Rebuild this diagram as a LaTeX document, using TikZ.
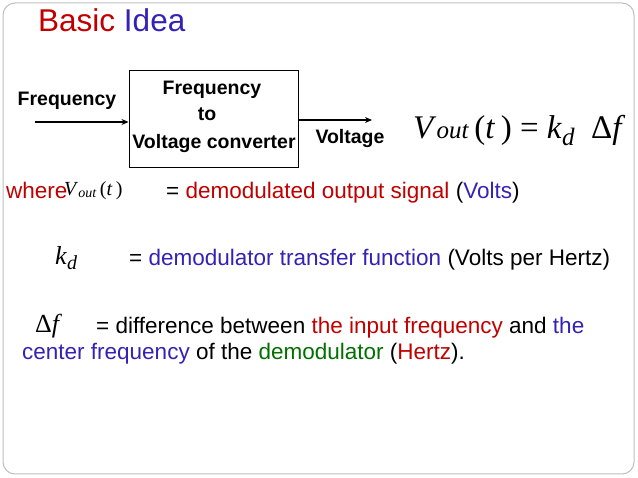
\documentclass[tikz,border=0pt]{standalone}
\usetikzlibrary{arrows.meta}
\usepackage{fontspec}
\setmainfont{Liberation Sans}
\newfontfamily\tms{Liberation Serif}
\definecolor{rd}{RGB}{192,0,0}
\definecolor{bl}{RGB}{51,34,180}
\definecolor{gr}{RGB}{0,112,0}
\begin{document}
\begin{tikzpicture}[x=1pt,y=-1pt,
  lbl/.style={inner sep=0,anchor=base west,font=\fontsize{22.5}{26}\selectfont},
  blk/.style={inner sep=0,font=\bfseries\fontsize{19.5}{22}\selectfont},
  arr/.style={-{Stealth[length=7pt,width=6pt]},line width=1.2pt}]
\useasboundingbox (0,0) rectangle (638,478);
\draw[gray!50,line width=1pt,rounded corners=12pt] (3,3) rectangle (634,474);
\node[lbl,font=\fontsize{31.5}{34}\selectfont] (t) at (38,32) {\textcolor{rd}{Basic} \textcolor{bl}{Idea}};
\node[draw,line width=1pt,minimum width=169pt,minimum height=97pt,inner sep=0] (c) at (213.5,119.5) {};
\node[blk] (c1) at (212,90) {Frequency};
\node[blk] (c2) at (207,114) {to};
\node[blk] (c3) at (214,144) {Voltage converter};
\node[blk] (fi) at (67,101) {Frequency};
\node[blk] (vo) at (350,139) {Voltage};
\coordinate (a0) at (35,122);
\draw[arr] (a0) -- (c.west|-a0);
\coordinate (b1) at (372,120);
\draw[arr] (c.east|-b1) -- (b1);
\node[inner sep=0,anchor=base west,font=\tms\fontsize{33}{38}\selectfont] (eq) at (413,139) {\textit{V}\textit{\fontsize{25}{30}\selectfont out}\,(\textit{t}\,) = \textit{k}\raisebox{-7pt}{\textit{\fontsize{25}{30}\selectfont d}}\ \ \symbol{"0394}\textit{f}};
\node[lbl] (w) at (6,199) {\textcolor{rd}{where}};
\node[inner sep=0,anchor=base west,font=\tms\fontsize{20}{24}\selectfont] (wv) at (64,196) {\textit{V}\raisebox{-2pt}{\textit{\fontsize{14}{16}\selectfont out}}\,(\textit{t}\,)};
\node[lbl] (l1) at (166,199) {= \textcolor{rd}{demodulated output signal} (\textcolor{bl}{Volts})};
\node[inner sep=0,anchor=base west,font=\tms\fontsize{26}{30}\selectfont] (kd) at (55,265) {\textit{k}\raisebox{-5pt}{\textit{\fontsize{20}{24}\selectfont d}}};
\node[lbl] (l2) at (129,266) {= \textcolor{bl}{demodulator transfer function} (Volts per Hertz)};
\node[inner sep=0,anchor=base west,font=\tms\fontsize{26}{30}\selectfont] (df) at (35,333) {\symbol{"0394}\textit{f}};
\node[lbl] (l3) at (96,334) {= difference between \textcolor{rd}{the input frequency} and \textcolor{bl}{the}};
\node[lbl] (l4) at (22,360) {\textcolor{bl}{center frequency} of the \textcolor{gr}{demodulator} (\textcolor{rd}{Hertz}).};
\end{tikzpicture}
\end{document}
